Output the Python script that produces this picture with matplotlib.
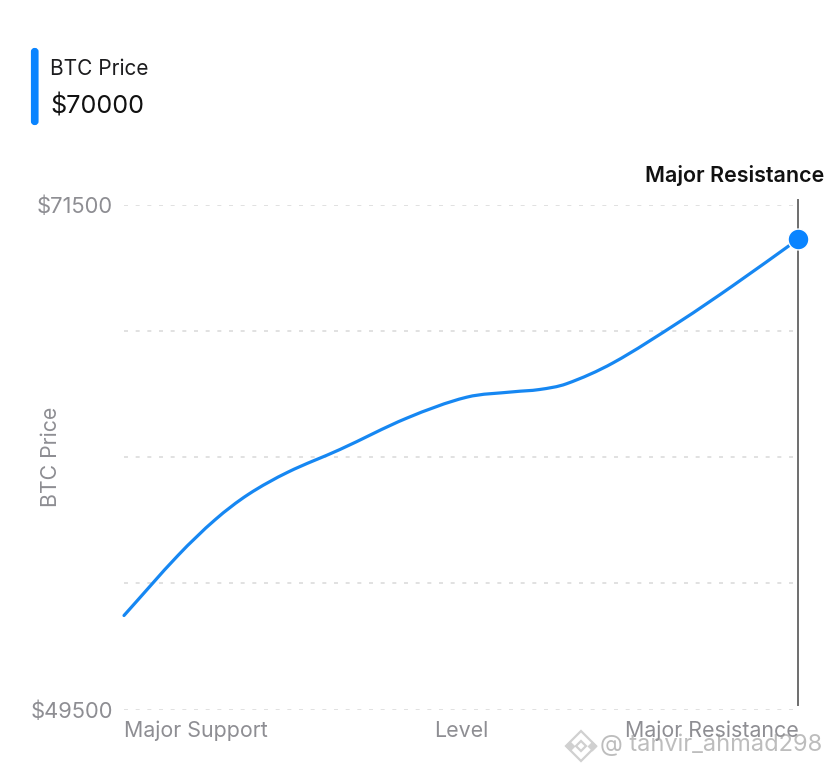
import matplotlib
matplotlib.use('Agg')
import matplotlib.pyplot as plt
from matplotlib.patches import FancyBboxPatch, PathPatch
from matplotlib.path import Path

plt.rcParams['font.family'] = ['Inter', 'DejaVu Sans']

# curve: position along the axis (0-100) and price
position = [0, 8.0, 13.5, 18.4, 24.3, 32.0, 41.9, 50.8, 57.7, 61.6, 65.6, 72.5, 82.4, 90.3, 100]
price = [53595, 56210, 57765, 58865, 59840, 60825, 62190, 63105, 63340, 63440, 63690, 64600, 66400, 67970, 70000]

y_ticks = [49500, 55000, 60500, 66000, 71500]
y_tick_labels = ['$49500', '', '', '', '$71500']
x_ticks = [0, 50, 100]
x_tick_labels = ['Major Support', 'Level', 'Major Resistance']

BLUE = '#0a84ff'
LINE_BLUE = '#1687f2'
GREY = '#8e8e93'
W, H = 829, 771


def smooth_path(xs, ys):
    # bezier through the points, tangents from the neighbours
    n = len(xs)
    slopes = []
    for i in range(n):
        a, b = max(i - 1, 0), min(i + 1, n - 1)
        slopes.append((ys[b] - ys[a]) / (xs[b] - xs[a]))
    verts = [(xs[0], ys[0])]
    codes = [Path.MOVETO]
    for i in range(n - 1):
        h = (xs[i + 1] - xs[i]) / 3
        verts += [(xs[i] + h, ys[i] + slopes[i] * h),
                  (xs[i + 1] - h, ys[i + 1] - slopes[i + 1] * h),
                  (xs[i + 1], ys[i + 1])]
        codes += [Path.CURVE4] * 3
    return Path(verts, codes)


fig = plt.figure(figsize=(W / 100, H / 100), dpi=100)
ax = fig.add_axes([124 / W, 1 - 709.5 / H, 674.5 / W, 505 / H])
ax.set_xlim(0, 100)
ax.set_ylim(49500, 71500)

ax.add_patch(PathPatch(smooth_path(position, price), fc='none', ec=LINE_BLUE, lw=2.3, capstyle='round',
                       clip_on=False, zorder=3))
ax.plot([100, 100], [0.008, 1.008], transform=ax.get_xaxis_transform(), color='#6e6e6e', lw=1.4,
        clip_on=False, zorder=2)
ax.scatter(position[-1], price[-1], s=225, color=BLUE, edgecolor='white', linewidth=1, clip_on=False, zorder=4)

ax.set_yticks(y_ticks, y_tick_labels)
ax.set_xticks(x_ticks, x_tick_labels)
ax.grid(axis='y', color='#dcdcdc', lw=1.2, linestyle=(0, (2.4, 4.6)))
ax.set_axisbelow(True)
for s in ax.spines.values():
    s.set_visible(False)
ax.tick_params(length=0, labelcolor=GREY, labelsize=15.4)
ax.tick_params(axis='y', labelsize=15.8, pad=8)
ax.tick_params(axis='x', pad=8)
labels = ax.get_xticklabels()
labels[0].set_ha('left')
labels[2].set_ha('right')
ax.set_ylabel('BTC Price', color=GREY, fontsize=15.3)
ax.yaxis.set_label_coords(-0.094, 0.5)

# header and watermark are placed in pixels on an overlay
ov = fig.add_axes([0, 0, 1, 1], zorder=5)
ov.set_xlim(0, W)
ov.set_ylim(H, 0)
ov.axis('off')
ov.add_patch(FancyBboxPatch((33, 50), 3.5, 73, boxstyle='round,pad=0,rounding_size=1.7', mutation_aspect=1,
                            fc=BLUE, ec=BLUE, lw=3))
ov.text(50.5, 69, 'BTC Price', fontsize=15, color='#1c1c1e', va='center')
ov.text(50, 106, '$70000', fontsize=18.2, color='#111111', va='center')
ov.text(824, 176, 'Major Resistance', fontsize=15.5, color='#111111', va='center', ha='right', fontweight='semibold')

ov.text(600, 745, '@ tanvir_ahmad298', fontsize=17, color='#9a9a9a', alpha=0.65, va='center', ha='left')
for mx, my, ms, face in [(581, 746, 15, 'none'), (581, 746, 5, 'none'), (570, 746, 3.5, '#d0d0d0'), (592, 746, 3.5, '#d0d0d0')]:
    ov.plot(mx, my, marker='D', ms=ms, mfc=face, mec='#d0d0d0', mew=1.6)

fig.savefig('out.png', dpi=100)
